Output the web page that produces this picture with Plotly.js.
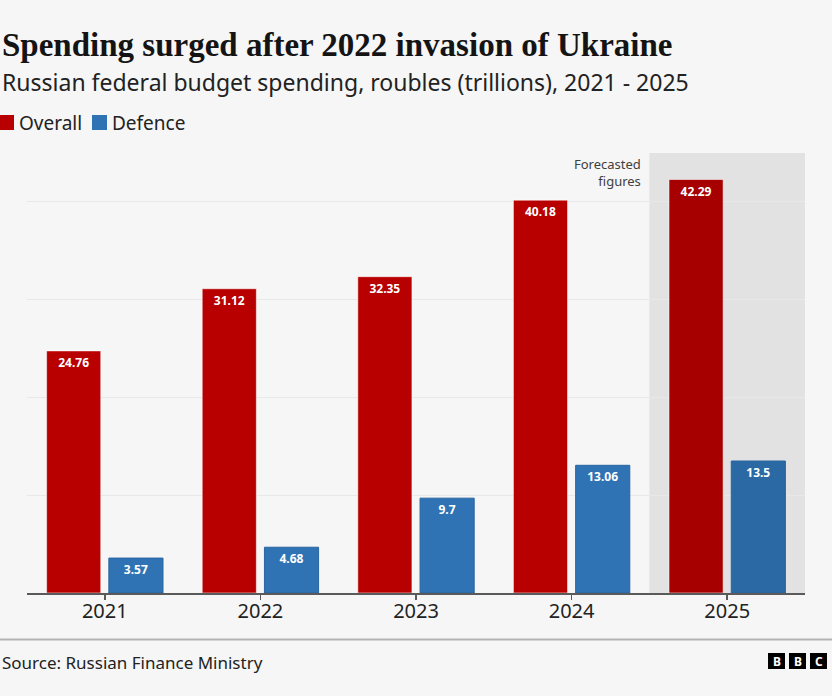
<!DOCTYPE html>
<html>
<head>
<meta charset="utf-8">
<script src="https://cdn.plot.ly/plotly-3.0.1.min.js"></script>
<style>
  html, body { margin: 0; padding: 0; background: #f6f6f6; }
  #chart { width: 832px; height: 696px; }
</style>
</head>
<body>
<div id="chart"></div>
<script>
const years = ["2021", "2022", "2023", "2024", "2025"];
const overall = [24.76, 31.12, 32.35, 40.18, 42.29];
const defence = [3.57, 4.68, 9.7, 13.06, 13.5];
const forecastYear = "2025";

const W = 832, H = 696;
const M = { l: 27, r: 27, t: 153, b: 103 };
const plotW = W - M.l - M.r;
const plotH = H - M.t - M.b;
// pixel -> paper coords for the layout furniture
const px = (x) => (x - M.l) / plotW;
const py = (y) => (H - M.b - y) / plotH;

const SANS = "Noto Sans, Open Sans, sans-serif";
const SERIF = "Liberation Serif, DejaVu Serif, serif";

const isForecast = years.map((y) => y === forecastYear);

const traceOverall = {
  name: "Overall",
  type: "bar",
  x: years,
  y: overall,
  text: overall.map(String),
  textposition: "inside",
  insidetextanchor: "end",
  textangle: 0,
  textfont: { family: SANS, size: 12, color: "white", weight: "bold" },
  marker: {
    color: isForecast.map((f) => (f ? "#a70000" : "#b80000")),
    line: { width: 1, color: "rgba(255,255,255,0.55)" },
  },
  hoverinfo: "x+y",
};

const traceDefence = {
  name: "Defence",
  type: "bar",
  x: years,
  y: defence,
  text: defence.map(String),
  textposition: "inside",
  insidetextanchor: "end",
  textangle: 0,
  textfont: { family: SANS, size: 12, color: "white", weight: "bold" },
  marker: {
    color: isForecast.map((f) => (f ? "#2b69a4" : "#2f73b4")),
    line: { width: 1, color: "#2a64a0" },
  },
  hoverinfo: "x+y",
};

const layout = {
  width: W,
  height: H,
  margin: M,
  paper_bgcolor: "#f6f6f6",
  plot_bgcolor: "#f6f6f6",
  showlegend: false,
  barmode: "group",
  bargap: 0.2,
  bargroupgap: 0.13,
  font: { family: SANS, color: "#222222" },
  xaxis: {
    type: "category",
    range: [-0.5, 4.5],
    showline: true,
    linecolor: "#5a5a5a",
    linewidth: 1.5,
    ticks: "outside",
    ticklen: 5,
    tickwidth: 1.5,
    tickcolor: "#5a5a5a",
    ticklabelstandoff: -6,
    tickfont: { family: SANS, size: 20, color: "#222222" },
    showgrid: false,
    fixedrange: true,
  },
  yaxis: {
    range: [0, 45],
    dtick: 10,
    showticklabels: false,
    showgrid: true,
    gridcolor: "#e8e8e8",
    gridwidth: 1,
    zeroline: false,
    fixedrange: true,
  },
  shapes: [
    // forecast shading
    {
      type: "rect", xref: "x", yref: "paper",
      x0: 3.5, x1: 4.5, y0: 0, y1: 1,
      fillcolor: "#e2e2e2", line: { width: 0 }, layer: "below",
    },
    // legend swatches
    {
      type: "rect", xref: "paper", yref: "paper",
      x0: px(0), x1: px(14), y0: py(130), y1: py(115),
      fillcolor: "#b80000", line: { width: 0 },
    },
    {
      type: "rect", xref: "paper", yref: "paper",
      x0: px(92), x1: px(107), y0: py(130), y1: py(115),
      fillcolor: "#2f73b4", line: { width: 0 },
    },
    // footer rule
    {
      type: "line", xref: "paper", yref: "paper",
      x0: px(0), x1: px(832), y0: py(639.5), y1: py(639.5),
      line: { color: "#b3b3b3", width: 2 },
    },
    // BBC blocks
    ...[768, 789, 810].map((x) => ({
      type: "rect", xref: "paper", yref: "paper",
      x0: px(x), x1: px(x + 17), y0: py(669), y1: py(653),
      fillcolor: "#000000", line: { width: 0 },
    })),
  ],
  annotations: [
    {
      text: "<b>Spending surged after 2022 invasion of Ukraine</b>",
      xref: "paper", yref: "paper", x: px(0), y: py(45),
      xanchor: "left", yanchor: "middle", showarrow: false,
      font: { family: SERIF, size: 33, color: "#141414" },
    },
    {
      text: "Russian federal budget spending, roubles (trillions), 2021 - 2025",
      xref: "paper", yref: "paper", x: px(0), y: py(82),
      xanchor: "left", yanchor: "middle", showarrow: false,
      font: { family: SANS, size: 23, color: "#222222" },
    },
    {
      text: "Overall",
      xref: "paper", yref: "paper", x: px(17), y: py(123),
      xanchor: "left", yanchor: "middle", showarrow: false,
      font: { family: SANS, size: 19, color: "#222222" },
    },
    {
      text: "Defence",
      xref: "paper", yref: "paper", x: px(110), y: py(123),
      xanchor: "left", yanchor: "middle", showarrow: false,
      font: { family: SANS, size: 19, color: "#222222" },
    },
    {
      text: "Forecasted<br>figures",
      xref: "paper", yref: "paper", x: px(643), y: py(172),
      xanchor: "right", yanchor: "middle", align: "right", showarrow: false,
      font: { family: SANS, size: 13, color: "#404040" },
    },
    {
      text: "Source: Russian Finance Ministry",
      xref: "paper", yref: "paper", x: px(0), y: py(662),
      xanchor: "left", yanchor: "middle", showarrow: false,
      font: { family: SANS, size: 17, color: "#222222" },
    },
    ...["B", "B", "C"].map((ch, i) => ({
      text: "<b>" + ch + "</b>",
      xref: "paper", yref: "paper", x: px(776.5 + 21 * i), y: py(661),
      xanchor: "center", yanchor: "middle", showarrow: false,
      font: { family: SANS, size: 12, color: "#ffffff" },
    })),
  ],
};

const config = { responsive: false, staticPlot: true, displayModeBar: false };

Plotly.newPlot("chart", [traceOverall, traceDefence], layout, config);
</script>
</body>
</html>
